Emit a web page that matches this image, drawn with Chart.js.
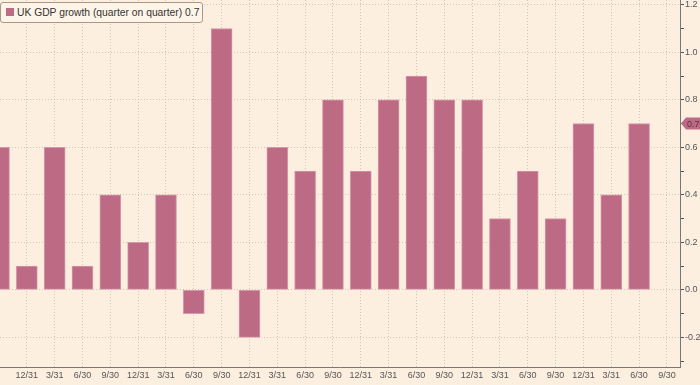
<!DOCTYPE html>
<html>
<head>
<meta charset="utf-8">
<script src="https://cdn.jsdelivr.net/npm/chart.js@4/dist/chart.umd.min.js"></script>
<style>
  html, body { margin: 0; padding: 0; background: #fdefe0; }
  #wrap { position: relative; width: 700px; height: 385px; }
  #legend {
    position: absolute; left: 0; top: 2px; height: 19px; padding: 0 3px 0 5px;
    background: #fef4e7; border: 1px solid #a89985; border-radius: 3px;
    font: 10.3px "Liberation Sans", Arial, sans-serif; color: #333;
    line-height: 19px; white-space: nowrap;
  }
  #legend i {
    display: inline-block; width: 8px; height: 8px; background: #bd6a85;
    margin-right: 3px;
  }
</style>
</head>
<body>
<div id="wrap">
  <canvas id="gdpChart" width="700" height="385"></canvas>
  <div id="legend"><i></i>UK GDP growth (quarter on quarter) 0.7</div>
</div>
<script>
// Trimestres (fim de trimestre) e crescimento do PIB do Reino Unido, % tri/tri
const quarters = ['9/30', '12/31', '3/31', '6/30', '9/30', '12/31', '3/31', '6/30', '9/30',
  '12/31', '3/31', '6/30', '9/30', '12/31', '3/31', '6/30', '9/30', '12/31', '3/31',
  '6/30', '9/30', '12/31', '3/31', '6/30', '9/30'];
const growth = [0.6, 0.1, 0.6, 0.1, 0.4, 0.2, 0.4, -0.1, 1.1, -0.2, 0.6, 0.5, 0.8,
  0.5, 0.8, 0.9, 0.8, 0.8, 0.3, 0.5, 0.3, 0.7, 0.4, 0.7];
const lastValue = growth[growth.length - 1];

const barColor = '#bd6a85';
const gridColor = 'rgba(175,165,150,0.55)';

// zera o padding que o Chart.js reserva para rótulos nas bordas
function noPad(s) {
  s.paddingTop = 0; s.paddingBottom = 0; s.paddingLeft = 0; s.paddingRight = 0;
}

// fundo e etiqueta do último valor
const bgPlugin = {
  id: 'bg',
  beforeDraw(chart) {
    const c = chart.ctx;
    c.save();
    c.fillStyle = '#fdefe0';
    c.fillRect(0, 0, chart.width, chart.height);
    c.restore();
  },
  afterDraw(chart) {
    const c = chart.ctx;
    const y = chart.scales.y.getPixelForValue(lastValue);
    const x = chart.chartArea.right + 1;
    c.save();
    c.fillStyle = barColor;
    c.beginPath();
    c.moveTo(x, y);
    c.lineTo(x + 5, y - 6);
    c.lineTo(700, y - 6);
    c.lineTo(700, y + 6);
    c.lineTo(x + 5, y + 6);
    c.closePath();
    c.fill();
    c.fillStyle = '#5a3040';
    c.font = '9px "Liberation Sans", Arial, sans-serif';
    c.textBaseline = 'middle';
    c.fillText(lastValue.toFixed(1), x + 6, y + 0.5);
    c.restore();
  }
};

new Chart(document.getElementById('gdpChart'), {
  type: 'bar',
  data: {
    datasets: [{
      data: growth.map((v, i) => ({ x: i, y: v })),
      backgroundColor: barColor,
      borderColor: '#d897aa',
      borderWidth: 1,
      borderSkipped: false,
      barThickness: 21
    }]
  },
  plugins: [bgPlugin],
  options: {
    responsive: false,
    animation: false,
    layout: { padding: 0 },
    plugins: { legend: { display: false }, tooltip: { enabled: false } },
    scales: {
      x: {
        type: 'linear',
        offset: false,
        min: 0.036,
        max: 24.47,
        afterFit(s) { s.height = 18; noPad(s); },
        afterBuildTicks(s) {
          s.ticks = quarters.map((q, i) => ({ value: i })).slice(1);
        },
        ticks: {
          autoSkip: false,
          maxRotation: 0,
          padding: 3,
          color: '#555',
          font: { size: 9, family: '"Liberation Sans", Arial, sans-serif' },
          callback: (v) => quarters[v] || ''
        },
        grid: {
          offset: false,
          color: gridColor,
          drawTicks: false,
          lineWidth: 1
        },
        border: { display: true, color: '#777', dash: [1, 2] }
      },
      y: {
        position: 'right',
        min: -0.325,
        max: 1.22,
        afterFit(s) { s.width = 20; noPad(s); },
        afterBuildTicks(s) {
          const t = [];
          for (let k = -3; k <= 12; k++) t.push({ value: k / 10 });
          s.ticks = t;
        },
        ticks: {
          autoSkip: false,
          padding: 1,
          color: '#555',
          font: { size: 9, family: '"Liberation Sans", Arial, sans-serif' },
          callback: (v) => {
            const k = Math.round(v * 10);
            return k % 2 === 0 ? v.toFixed(1) : '';
          }
        },
        grid: {
          color: (ctx) => Math.round(ctx.tick.value * 10) % 2 === 0 ? gridColor : 'rgba(0,0,0,0)',
          tickColor: '#555',
          tickLength: 4,
          drawOnChartArea: true
        },
        border: { display: true, color: '#777', dash: [1, 2] }
      }
    }
  }
});
</script>
</body>
</html>
